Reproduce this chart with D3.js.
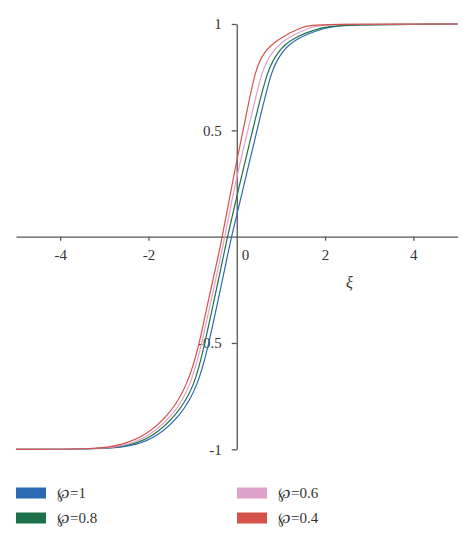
<!DOCTYPE html>
<html>
<head>
<meta charset="utf-8">
<script src="https://cdn.jsdelivr.net/npm/d3@7"></script>
<style>
  body { margin: 0; background: #fff; }
  svg { display: block; }
  text { font-family: "Liberation Serif", "DejaVu Serif", serif !important; }
  .axis path, .axis line { stroke: #555; stroke-width: 1.3; }
  .axis text { fill: #333; font-size: 15px; }
</style>
</head>
<body>
<div id="chart"></div>
<script>
// values, one xi/value pair of arrays per curve
const xiP1 = [-5, -2.85, -2.25, -1.8, -1.28, -0.88, -0.63, -0.5, -0.18, -0.12, 0, 0.57, 0.79, 1.02, 1.32, 2.0, 2.5, 5]
const valP1 = [-1, -1, -0.978, -0.94, -0.845, -0.704, -0.5, -0.375, -0.061, 0, 0.1, 0.597, 0.785, 0.87, 0.93, 0.985, 0.997, 1]

const xiP08 = [-5, -2.95, -2.35, -1.9, -1.38, -0.95, -0.725, -0.59, -0.27, -0.21, 0, 0.47, 0.7, 0.93, 1.22, 1.9, 2.4, 5]
const valP08 = [-1, -1, -0.978, -0.94, -0.845, -0.704, -0.5, -0.375, -0.061, 0, 0.19, 0.597, 0.785, 0.87, 0.93, 0.985, 0.998, 1]

const xiP06 = [-5, -3.0, -2.45, -2.0, -1.45, -1.04, -0.79, -0.66, -0.33, -0.27, 0, 0.37, 0.57, 0.8, 1.08, 1.69, 2.1, 5]
const valP06 = [-1, -1, -0.978, -0.94, -0.845, -0.704, -0.5, -0.375, -0.061, 0, 0.29, 0.597, 0.785, 0.87, 0.93, 0.989, 1, 1]

const xiP04 = [-5, -3.1, -2.6, -2.1, -1.55, -1.12, -0.84, -0.725, -0.385, -0.33, 0, 0.24, 0.42, 0.62, 0.9, 1.47, 1.85, 5]
const valP04 = [-1, -1, -0.978, -0.94, -0.845, -0.704, -0.5, -0.375, -0.061, 0, 0.36, 0.597, 0.785, 0.87, 0.925, 0.989, 1, 1]

const seriesLabels = ["\u2118=1", "\u2118=0.8", "\u2118=0.6", "\u2118=0.4"]
const seriesColors = ["#2a6ab5", "#1d7148", "#dea1c9", "#d4524a"]
const xTicks = [-4, -2, 2, 4]
const yTicks = [-1, -0.5, 0.5, 1]

const width = 474
const height = 544

const series = [
  { label: seriesLabels[0], color: seriesColors[0], xi: xiP1, val: valP1 },
  { label: seriesLabels[1], color: seriesColors[1], xi: xiP08, val: valP08 },
  { label: seriesLabels[2], color: seriesColors[2], xi: xiP06, val: valP06 },
  { label: seriesLabels[3], color: seriesColors[3], xi: xiP04, val: valP04 }
]

const svg = d3.select('#chart')
  .append('svg')
    .attr('width', width)
    .attr('height', height)

const x = d3.scaleLinear().domain([-5, 5]).range([16, 457.5])
const y = d3.scaleLinear().domain([-1, 1]).range([449.3, 24])

// x axis through y = 0
const xAxis = svg.append('g')
  .attr('class', 'axis')
  .attr('transform', `translate(0, ${y(0)})`)
  .call(d3.axisBottom(x).tickValues(xTicks).tickSize(4).tickSizeOuter(0).tickPadding(9)
    .tickFormat(d => d))

// the 0 label sits just right of the y axis
xAxis.append('text')
  .attr('x', x(0) + 5)
  .attr('y', 13)
  .attr('dy', '0.71em')
  .attr('text-anchor', 'start')
  .text('0')

// y axis through xi = 0
svg.append('g')
  .attr('class', 'axis')
  .attr('transform', `translate(${x(0)}, 0)`)
  .call(d3.axisLeft(y).tickValues(yTicks).tickSize(5).tickSizeOuter(0).tickPadding(10)
    .tickFormat(d => d))

svg.append('text')
  .attr('x', x(2.55))
  .attr('y', 288)
  .attr('text-anchor', 'middle')
  .style('font-size', '16px')
  .style('font-style', 'italic')
  .style('fill', '#333')
  .text('\u03be')

const line = d3.line()
  .x(d => x(d[0]))
  .y(d => y(d[1]))
  .curve(d3.curveBasis)

svg.append('g').selectAll('path')
  .data(series)
  .enter().append('path')
    .attr('d', s => line(s.xi.map((v, i) => [v, s.val[i]])))
    .attr('fill', 'none')
    .attr('stroke', s => s.color)
    .attr('stroke-width', 1.2)

// legend, two columns
const legend = svg.append('g').selectAll('g')
  .data(series)
  .enter().append('g')
    .attr('transform', (s, i) => `translate(${i < 2 ? 16 : 237}, ${i % 2 === 0 ? 487.5 : 512.5})`)

legend.append('rect')
  .attr('width', 30)
  .attr('height', 11)
  .attr('fill', s => s.color)

legend.append('text')
  .attr('x', 41)
  .attr('y', 5.5)
  .attr('dy', '0.35em')
  .style('font-size', '15px')
  .style('fill', '#333')
  .text(s => s.label)
</script>
</body>
</html>
